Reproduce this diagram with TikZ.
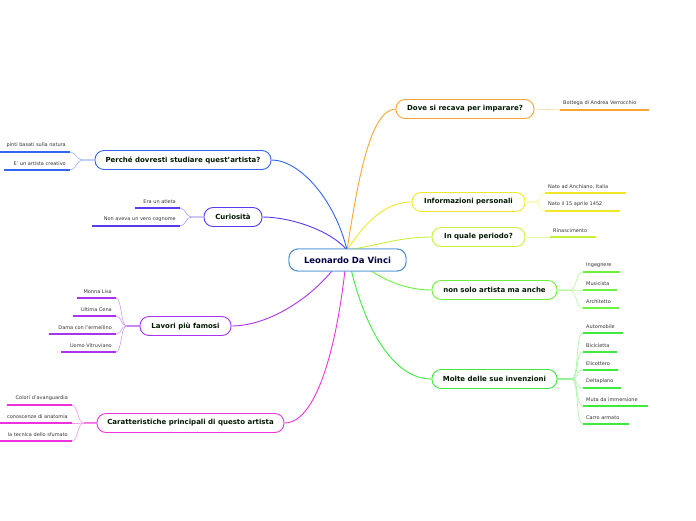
\documentclass[tikz,border=0pt]{standalone}
\usepackage{fontspec}
\setmainfont{DejaVu Sans}
\begin{document}
\begin{tikzpicture}[x=1pt,y=-1pt,
  mainbox/.style={draw=#1,line width=0.9pt,rounded corners=9pt,fill=white,minimum height=19pt,inner xsep=4pt,font=\fontsize{7}{8}\selectfont\bfseries,text=black!75!green!40!black},
  leafline/.style={draw=#1,line width=1.6pt},
  branch/.style={draw=#1,line width=0.9pt},
  twig/.style={draw=#1!50,line width=0.6pt},
  leaftxt/.style={font=\fontsize{5}{6}\selectfont,text=black!80,inner sep=1pt}]
\useasboundingbox (0,0) rectangle (696,520);
\definecolor{cor}{HTML}{F9A533}\definecolor{cye}{HTML}{F2E82A}\definecolor{cyg}{HTML}{C4F23A}
\definecolor{cg1}{HTML}{6CF23A}\definecolor{cg2}{HTML}{3EEA3E}\definecolor{cbl}{HTML}{3366EE}
\definecolor{cin}{HTML}{5A3AEE}\definecolor{cpu}{HTML}{AA33EE}\definecolor{cma}{HTML}{EE33DD}
\definecolor{cce}{HTML}{4A90D9}
% leaf macros: right leaf and left leaf
\newcommand{\rleaf}[6]{\coordinate (#1) at (#3,#5); \draw[leafline=#2] (#1) -- (#4,#5);
  \node[leaftxt,anchor=south west] (#1t) at (#3+2,#5-3) {#6};}
\newcommand{\lleaf}[6]{\coordinate (#1) at (#4,#5); \draw[leafline=#2] (#3,#5) -- (#1);
  \node[leaftxt,anchor=south east] (#1t) at (#4-3,#5-3) {#6};}
% center
\node[draw=cce,line width=0.9pt,rounded corners=9pt,fill=white,minimum width=117pt,minimum height=22pt,font=\fontsize{8.5}{10}\selectfont\bfseries,text=black!75!blue] (c) at (347.5,260) {Leonardo Da Vinci};
\coordinate (cc) at (347,250);
% main nodes
\node[mainbox=cor,minimum width=138pt] (n1) at (465,109) {Dove si recava per imparare?};
\node[mainbox=cye,minimum width=113pt] (n2) at (468.5,202) {Informazioni personali};
\node[mainbox=cyg,minimum width=93pt] (n3) at (478.5,237) {In quale periodo?};
\node[mainbox=cg1,minimum width=125pt] (n4) at (494.5,290) {non solo artista ma anche};
\node[mainbox=cg2,minimum width=125pt] (n5) at (494.5,379) {Molte delle sue invenzioni};
\node[mainbox=cbl,minimum width=176pt] (n6) at (183,160) {Perché dovresti studiare quest'artista?};
\node[mainbox=cin,minimum width=58pt] (n7) at (233,217) {Curiosità};
\node[mainbox=cpu,minimum width=91pt] (n8) at (185.5,326) {Lavori più famosi};
\node[mainbox=cma,minimum width=187pt] (n9) at (190.5,423) {Caratteristiche principali di questo artista};
% branches
\begin{scope}[on background layer/.style={}]
\draw[branch=cor] (cc) .. controls (358,180) and (370,110) .. (n1.west);
\draw[branch=cye] (cc) .. controls (370,215) and (390,202) .. (n2.west);
\draw[branch=cyg] (cc) .. controls (380,245) and (400,237) .. (n3.west);
\draw[branch=cg1] (cc) .. controls (370,275) and (400,290) .. (n4.west);
\draw[branch=cg2] (cc) .. controls (360,320) and (390,379) .. (n5.west);
\draw[branch=cbl] (cc) .. controls (335,200) and (300,160) .. (n6.east);
\draw[branch=cin] (cc) .. controls (330,230) and (290,217) .. (n7.east);
\draw[branch=cpu] (cc) .. controls (320,295) and (270,326) .. (n8.east);
\draw[branch=cma] (cc) .. controls (340,330) and (320,423) .. (n9.east);
\end{scope}
\node[draw=cce,line width=0.9pt,rounded corners=9pt,fill=white,minimum width=117pt,minimum height=22pt,font=\fontsize{8.5}{10}\selectfont\bfseries,text=black!75!blue] at (347.5,260) {Leonardo Da Vinci};
% leaves right
\rleaf{l1}{cor}{560}{649}{110}{Bottega di Andrea Verrocchio}
\draw[twig=cor] (n1.east) -- (l1);
\rleaf{l21}{cye}{545}{626}{193}{Nato ad Anchiano, Italia}
\rleaf{l22}{cye}{545}{620}{211}{Nato il 15 aprile 1452}
\foreach \l in {l21,l22} \draw[twig=cye] (n2.east) -- ++(10,0) .. controls +(6,0) and +(-6,0) .. (\l);
\rleaf{l3}{cyg}{550}{596}{237}{Rinascimento}
\draw[twig=cyg] (n3.east) -- (l3);
\rleaf{l41}{cg1}{583}{620}{272}{Ingegnere}
\rleaf{l42}{cg1}{583}{617}{290}{Musicista}
\rleaf{l43}{cg1}{583}{619}{308}{Architetto}
\foreach \l in {l41,l42,l43} \draw[twig=cg1] (n4.east) -- ++(12,0) .. controls +(8,0) and +(-8,0) .. (\l);
\rleaf{l51}{cg2}{583}{623}{333}{Automobile}
\rleaf{l52}{cg2}{583}{617}{352}{Bicicletta}
\rleaf{l53}{cg2}{583}{618}{370}{Elicottero}
\rleaf{l54}{cg2}{583}{621}{388}{Deltaplano}
\rleaf{l55}{cg2}{583}{648}{406}{Muta da immersione}
\rleaf{l56}{cg2}{583}{629}{424}{Carro armato}
\draw[leafline=cg2] (n5.east) -- ++(14,0);
\foreach \l in {l51,l52,l53,l54,l55,l56} \draw[twig=cg2] (n5.east) -- ++(14,0) .. controls +(8,0) and +(-8,0) .. (\l);
% leaves left
\lleaf{l61}{cbl}{0}{70}{152}{pinti basati sulla natura}
\lleaf{l62}{cbl}{4}{70}{170}{E' un artista creativo}
\foreach \l in {l61,l62} \draw[twig=cbl] (n6.west) -- ++(-12,0) .. controls +(-6,0) and +(6,0) .. (\l);
\lleaf{l71}{cin}{135}{180}{208}{Era un atleta}
\lleaf{l72}{cin}{92}{180}{226}{Non aveva un vero cognome}
\foreach \l in {l71,l72} \draw[twig=cin] (n7.west) -- ++(-12,0) .. controls +(-6,0) and +(6,0) .. (\l);
\lleaf{l81}{cpu}{77}{116}{298}{Monna Lisa}
\lleaf{l82}{cpu}{73}{116}{316}{Ultima Cena}
\lleaf{l83}{cpu}{49}{116}{334}{Dama con l'ermellino}
\lleaf{l84}{cpu}{61}{116}{352}{Uomo Vitruviano}
\draw[leafline=cpu] (n8.west) -- ++(-13,0);
\foreach \l in {l81,l82,l83,l84} \draw[twig=cpu] (n8.west) -- ++(-13,0) .. controls +(-6,0) and +(6,0) .. (\l);
\lleaf{l91}{cma}{7}{72}{405}{Colori d'avanguardia}
\lleaf{l92}{cma}{0}{72}{423}{conoscenze di anatomia}
\lleaf{l93}{cma}{0}{72}{441}{la tecnica dello sfumato}
\draw[leafline=cma] (n9.west) -- ++(-13,0);
\foreach \l in {l91,l92,l93} \draw[twig=cma] (n9.west) -- ++(-13,0) .. controls +(-6,0) and +(6,0) .. (\l);
\end{tikzpicture}
\end{document}
